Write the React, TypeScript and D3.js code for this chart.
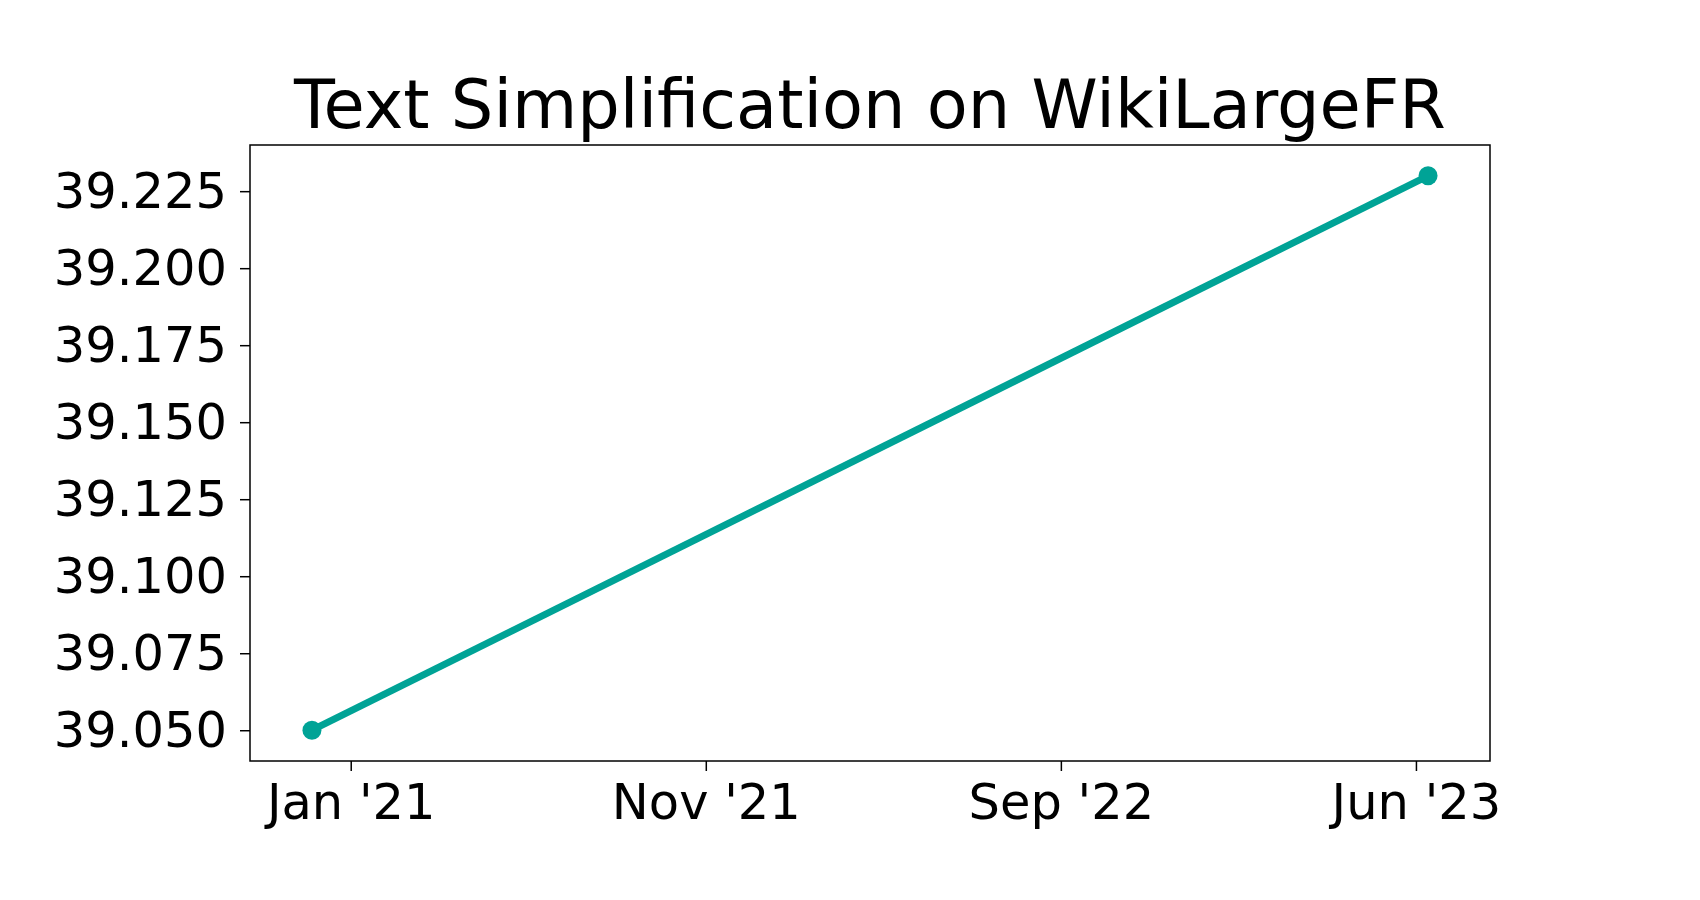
import React, { useEffect, useRef } from "react";
import * as d3 from "d3";

// data
const dates = ["2020-12-30", "2023-07-09"];
const scores = [39.05, 39.23];
const xTickDates = ["2021-01-31", "2021-11-20", "2022-09-09", "2023-06-29"];
const yTicks = [39.05, 39.075, 39.1, 39.125, 39.15, 39.175, 39.2, 39.225];
const title = "Text Simplification on WikiLargeFR";

const App = () => {
  const ref = useRef<HTMLDivElement>(null);

  useEffect(() => {
    const W = 1700;
    const H = 900;
    const margin = { top: 145, right: 210, bottom: 139, left: 250 };
    const width = W - margin.left - margin.right;
    const height = H - margin.top - margin.bottom;
    const font = "'DejaVu Sans', sans-serif";
    const teal = "#00a396";
    const tickFont = 49.5;

    d3.select(ref.current).select("svg").remove();

    const svgRoot = d3
      .select(ref.current)
      .append("svg")
      .attr("width", W)
      .attr("height", H)
      .style("position", "absolute")
      .style("left", "0px")
      .style("top", "0px")
      .style("background", "#fff");

    const svg = svgRoot
      .append("g")
      .attr("transform", `translate(${margin.left},${margin.top})`);

    const parse = d3.timeParse("%Y-%m-%d");
    const data = dates.map((d, i) => ({ date: parse(d) as Date, value: scores[i] }));

    // padding around the data extent, as in the original plot
    const pad = 0.0555;
    const t0 = +data[0].date;
    const t1 = +data[data.length - 1].date;
    const xPad = (t1 - t0) * pad;
    const x = d3
      .scaleTime()
      .domain([new Date(t0 - xPad), new Date(t1 + xPad)])
      .range([0, width]);

    const [vMin, vMax] = d3.extent(scores) as [number, number];
    const yPad = (vMax - vMin) * pad;
    const y = d3
      .scaleLinear()
      .domain([vMin - yPad, vMax + yPad])
      .range([height, 0]);

    // x axis
    const xAxis = svg
      .append("g")
      .attr("transform", `translate(0,${height})`)
      .call(
        d3
          .axisBottom(x)
          .tickValues(xTickDates.map((d) => parse(d) as Date))
          .tickFormat((d) => d3.timeFormat("%b '%y")(d as Date))
          .tickSize(10)
          .tickPadding(13)
      );
    xAxis.select(".domain").remove();
    xAxis.selectAll("line").attr("stroke", "#000").attr("stroke-width", 1.5);
    xAxis
      .selectAll("text")
      .attr("font-family", font)
      .attr("font-size", tickFont)
      .attr("fill", "#000")
      .attr("dy", "0.71em");

    // y axis
    const yAxis = svg.append("g").call(
      d3
        .axisLeft(y)
        .tickValues(yTicks)
        .tickFormat((d) => d3.format(".3f")(d as number))
        .tickSize(10)
        .tickPadding(13)
    );
    yAxis.select(".domain").remove();
    yAxis.selectAll("line").attr("stroke", "#000").attr("stroke-width", 1.5);
    yAxis
      .selectAll("text")
      .attr("font-family", font)
      .attr("font-size", tickFont)
      .attr("fill", "#000")
      .attr("dy", "0.33em");

    // line + markers
    const line = d3
      .line<{ date: Date; value: number }>()
      .x((d) => x(d.date))
      .y((d) => y(d.value));

    svg
      .append("path")
      .datum(data)
      .attr("d", line)
      .attr("fill", "none")
      .attr("stroke", teal)
      .attr("stroke-width", 7);

    svg
      .selectAll("circle")
      .data(data)
      .enter()
      .append("circle")
      .attr("cx", (d) => x(d.date))
      .attr("cy", (d) => y(d.value))
      .attr("r", 9.5)
      .attr("fill", teal);

    // frame
    svg
      .append("rect")
      .attr("width", width)
      .attr("height", height)
      .attr("fill", "none")
      .attr("stroke", "#000")
      .attr("stroke-width", 1.5);

    // title
    svg
      .append("text")
      .attr("x", width / 2)
      .attr("y", -17)
      .attr("text-anchor", "middle")
      .attr("font-family", font)
      .attr("font-size", 67)
      .attr("fill", "#000")
      .text(title);
  }, []);

  return <div ref={ref}></div>;
};

export default App;
